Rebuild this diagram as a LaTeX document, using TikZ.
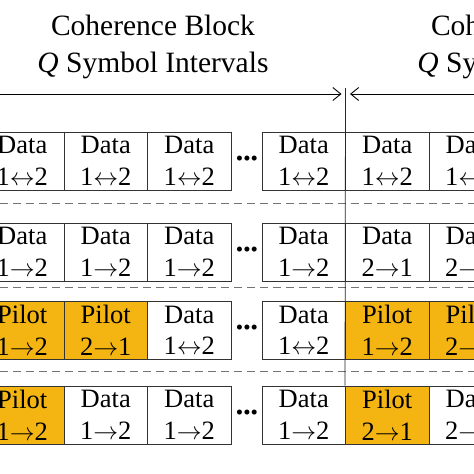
\documentclass[tikz,border=0pt]{standalone}
\usepackage{fontspec}
\setmainfont{Liberation Serif}
\usetikzlibrary{arrows.meta}
\definecolor{pilotorange}{RGB}{244,181,18}
\newcommand{\bidir}{$\leftrightarrow$}
\newcommand{\onedir}{$\rightarrow$}
\begin{document}
\begin{tikzpicture}[
  x=1pt, y=-1pt,
  cellbox/.style={rectangle, draw=black!80, line width=0.9pt, fill=white,
    minimum width=83.5pt, minimum height=58pt, inner sep=0pt, align=center,
    font=\fontsize{26.5}{31.8}\selectfont},
  pilotbox/.style={cellbox, fill=pilotorange},
  dotsbox/.style={inner sep=0pt, font=\fontsize{21}{21}\selectfont},
  titlebox/.style={inner sep=0pt, align=center, font=\fontsize{29.5}{37}\selectfont},
  sep/.style={draw=black!55, line width=0.8pt, dash pattern=on 8pt off 5pt},
  arr/.style={-{Straight Barb[length=8pt,width=13pt]}, line width=0.9pt},
  bound/.style={draw=black!85, line width=0.8pt},
]
\useasboundingbox (0,0) rectangle (474,474);
\clip (0,0) rectangle (474,474);

% ============================================================
% TITLES AND BLOCK ARROWS
% ============================================================
\node[titlebox] (titleL) at (153, 47) {Coherence Block\\\textit{Q} Symbol Intervals};
\node[titlebox] (titleR) at (533, 47) {Coherence Block\\\textit{Q} Symbol Intervals};

\coordinate (arrLs) at (-5, 94);
\coordinate (arrLe) at (341.5, 94);
\coordinate (arrRs) at (480, 94);
\coordinate (arrRe) at (350, 94);
\draw[arr] (arrLs) -- (arrLe);
\draw[arr] (arrRs) -- (arrRe);

% ============================================================
% ROW 1
% ============================================================
\node[cellbox] (r1c1) at (22.25, 161) {Data\\1\bidir2};
\node[cellbox] (r1c2) at (105.75, 161) {Data\\1\bidir2};
\node[cellbox] (r1c3) at (189.25, 161) {Data\\1\bidir2};
\node[dotsbox] (r1dots) at (247, 161) {•••};
\node[cellbox] (r1c4) at (303.75, 161) {Data\\1\bidir2};
\node[cellbox] (r1c5) at (387.25, 161) {Data\\1\bidir2};
\node[cellbox] (r1c6) at (470.75, 161) {Data\\1\bidir2};

% ============================================================
% ROW 2
% ============================================================
\node[cellbox] (r2c1) at (22.25, 252) {Data\\1\onedir2};
\node[cellbox] (r2c2) at (105.75, 252) {Data\\1\onedir2};
\node[cellbox] (r2c3) at (189.25, 252) {Data\\1\onedir2};
\node[dotsbox] (r2dots) at (247, 252) {•••};
\node[cellbox] (r2c4) at (303.75, 252) {Data\\1\onedir2};
\node[cellbox] (r2c5) at (387.25, 252) {Data\\2\onedir1};
\node[cellbox] (r2c6) at (470.75, 252) {Data\\2\onedir1};

% ============================================================
% ROW 3
% ============================================================
\node[pilotbox] (r3c1) at (22.25, 330.25) {Pilot\\1\onedir2};
\node[pilotbox] (r3c2) at (105.75, 330.25) {Pilot\\2\onedir1};
\node[cellbox] (r3c3) at (189.25, 330.25) {Data\\1\bidir2};
\node[dotsbox] (r3dots) at (247, 330.25) {•••};
\node[cellbox] (r3c4) at (303.75, 330.25) {Data\\1\bidir2};
\node[pilotbox] (r3c5) at (387.25, 330.25) {Pilot\\1\onedir2};
\node[pilotbox] (r3c6) at (470.75, 330.25) {Pilot\\2\onedir1};

% ============================================================
% ROW 4
% ============================================================
\node[pilotbox] (r4c1) at (22.25, 415) {Pilot\\1\onedir2};
\node[cellbox] (r4c2) at (105.75, 415) {Data\\1\onedir2};
\node[cellbox] (r4c3) at (189.25, 415) {Data\\1\onedir2};
\node[dotsbox] (r4dots) at (247, 415) {•••};
\node[cellbox] (r4c4) at (303.75, 415) {Data\\1\onedir2};
\node[pilotbox] (r4c5) at (387.25, 415) {Pilot\\2\onedir1};
\node[cellbox] (r4c6) at (470.75, 415) {Data\\2\onedir1};

% ============================================================
% SEPARATORS AND BLOCK BOUNDARY
% ============================================================
\coordinate (sep1L) at (0, 203);   \coordinate (sep1R) at (474, 203);
\coordinate (sep2L) at (0, 287.5); \coordinate (sep2R) at (474, 287.5);
\coordinate (sep3L) at (0, 371.5); \coordinate (sep3R) at (474, 371.5);
\draw[sep] (sep1L) -- (sep1R);
\draw[sep] (sep2L) -- (sep2R);
\draw[sep] (sep3L) -- (sep3R);

\coordinate (bndtop) at (345.5, 88);
\draw[bound] (bndtop) -- (r4c5.north west);

\end{tikzpicture}
\end{document}
